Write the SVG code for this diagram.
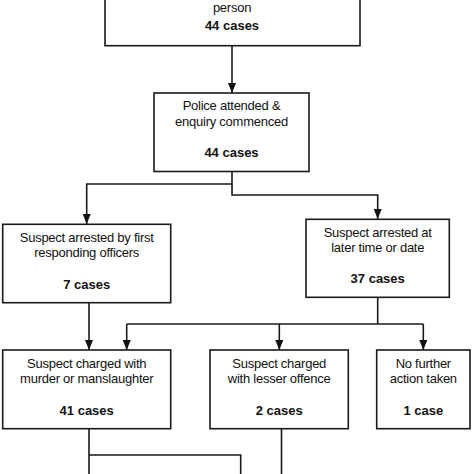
<svg xmlns="http://www.w3.org/2000/svg" width="474" height="474" viewBox="0 0 474 474">
<style>
.box{fill:#fff;stroke:#1a1a1a;stroke-width:1.6}
.t{font-family:"Liberation Sans",Arial,sans-serif;font-size:13px;fill:#111;text-anchor:middle;letter-spacing:-0.25px}
.b{font-weight:bold;letter-spacing:0}
.c{fill:none;stroke:#1a1a1a;stroke-width:1.6}
</style>
<defs>
<marker id="ah" viewBox="0 0 10 8" refX="10" refY="4" markerWidth="10" markerHeight="8" markerUnits="userSpaceOnUse" orient="auto">
<path d="M0,0 L10,4 L0,8 Z" fill="#111"/>
</marker>
</defs>
<rect width="474" height="474" fill="#fff"/>
<g id="connectors">
<path class="c" d="M232,46 V93" marker-end="url(#ah)"/>
<path class="c" d="M232,172 V184 H86.7 V224" marker-end="url(#ah)"/>
<path class="c" d="M232,184 V195 H377.7 V219" marker-end="url(#ah)"/>
<path class="c" d="M89,303 V350" marker-end="url(#ah)"/>
<path class="c" d="M377.7,297 V324"/>
<path class="c" d="M126.7,324 H423.3"/>
<path class="c" d="M126.7,324 V350" marker-end="url(#ah)"/>
<path class="c" d="M279.3,324 V350" marker-end="url(#ah)"/>
<path class="c" d="M423.3,324 V350" marker-end="url(#ah)"/>
<path class="c" d="M89,429 V476"/>
<path class="c" d="M89,455 H240.7 V476"/>
<path class="c" d="M281.5,429 V476"/>
</g>
<g id="n1">
<rect class="box" x="105" y="-20" width="255" height="65.7"/>
<text class="t" x="232" y="12">person</text>
<text class="t b" x="232" y="30">44 cases</text>
</g>
<g id="n2">
<rect class="box" x="154" y="93" width="155" height="78.5"/>
<text class="t" x="231.5" y="110">Police attended &amp;</text>
<text class="t" x="231.5" y="125.5">enquiry commenced</text>
<text class="t b" x="231.5" y="156.5">44 cases</text>
</g>
<g id="n3">
<rect class="box" x="2.7" y="224.3" width="168" height="78.4"/>
<text class="t" x="86.7" y="242.3">Suspect arrested by first</text>
<text class="t" x="86.7" y="257">responding officers</text>
<text class="t b" x="86.7" y="288.7">7 cases</text>
</g>
<g id="n4">
<rect class="box" x="306" y="219.3" width="143.3" height="78"/>
<text class="t" x="377.7" y="237">Suspect arrested at</text>
<text class="t" x="377.7" y="252">later time or date</text>
<text class="t b" x="377.7" y="283">37 cases</text>
</g>
<g id="n5">
<rect class="box" x="2.7" y="350" width="168" height="78.7"/>
<text class="t" x="86.7" y="368">Suspect charged with</text>
<text class="t" x="86.7" y="383">murder or manslaughter</text>
<text class="t b" x="86.7" y="414.7">41 cases</text>
</g>
<g id="n6">
<rect class="box" x="210" y="350" width="138.3" height="78.7"/>
<text class="t" x="279.2" y="368">Suspect charged</text>
<text class="t" x="279.2" y="383">with lesser offence</text>
<text class="t b" x="279.2" y="414.7">2 cases</text>
</g>
<g id="n7">
<rect class="box" x="376.7" y="350" width="93.3" height="78.7"/>
<text class="t" x="423.3" y="368">No further</text>
<text class="t" x="423.3" y="383">action taken</text>
<text class="t b" x="423.3" y="414.7">1 case</text>
</g>
</svg>
